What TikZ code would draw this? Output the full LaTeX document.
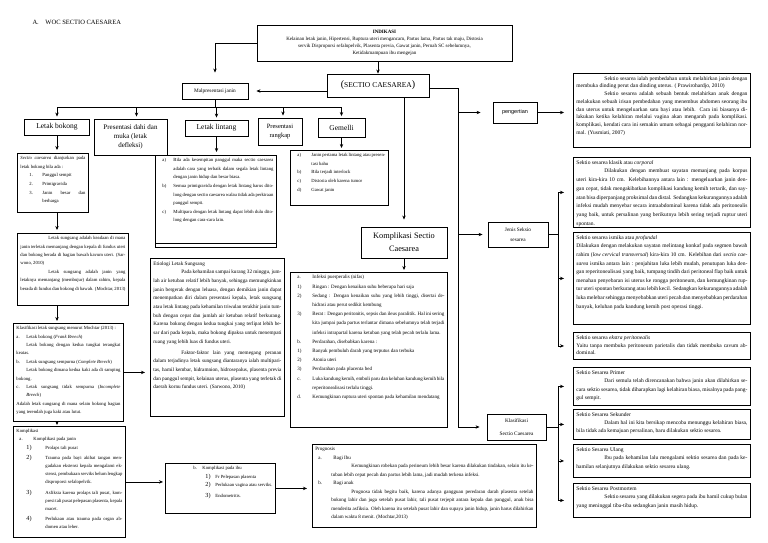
\documentclass[tikz,border=0pt]{standalone}
\usepackage{fontspec}
\setmainfont{Liberation Serif}
\newfontfamily\arialfont{Liberation Sans}
\usetikzlibrary{arrows.meta, positioning}

\newcommand{\ind}{\hspace*{28pt}}
\newcommand{\itm}[3]{\par\noindent\hangindent=\dimexpr#1+#2\relax\hangafter=1\hspace*{#1}\makebox[#2][l]{#3}}
\newcommand{\bn}[1]{{\fontsize{6.2}{6}\selectfont #1}}

\begin{document}
\begin{tikzpicture}[x=1pt, y=-1pt,
    lbl/.style={draw, line width=0.9pt, align=center, inner sep=1pt},
    txtbox/.style={draw, line width=0.9pt, anchor=north west, inner sep=3pt, font=\fontsize{4.7}{#1}\selectfont},
    txtbox/.default=8.6,
    rtbox/.style={txtbox, font=\fontsize{5.5}{#1}\selectfont},
    arr/.style={-{Stealth[length=4pt, width=3.4pt]}, line width=0.6pt},
    wire/.style={line width=0.6pt}
]
\path[use as bounding box, fill=white] (0,0) rectangle (768,543);

\node[anchor=west, font=\fontsize{6.5}{8}\selectfont] (title) at (29,22) {A.\hspace{5pt} WOC SECTIO CAESAREA};

% top
\node[lbl, minimum width=255pt, minimum height=36pt, font=\fontsize{5}{6.8}\selectfont] (indikasi) at (384.5,43)
  {\textbf{INDIKASI}\\Kelainan letak janin, Hipertensi, Ruptura uteri mengancam, Partus lama, Partus tak maju, Distosia\\servik Disproporsi sefalopelvik, Plasenta previa, Gawat janin, Pernah SC sebelumnya,\\Ketidakmampuan ibu mengejan};
\node[lbl, minimum width=102pt, minimum height=23pt, font=\fontsize{7.5}{9}\selectfont] (sectio) at (378,85.5)
  {{\fontsize{10}{10}\selectfont(}SECTIO CAESAREA{\fontsize{10}{10}\selectfont)}};
\node[lbl, minimum width=66pt, minimum height=16pt, font=\fontsize{5.3}{6}\selectfont] (malpres) at (215,91) {Malpresentasi janin};

% malpresentasi
\node[lbl, minimum width=65pt, minimum height=16pt, font=\fontsize{7.5}{9}\selectfont] (bokong) at (57,127) {Letak bokong};
\node[lbl, minimum width=73pt, minimum height=36pt, font=\fontsize{7}{9.2}\selectfont] (dahi) at (130.5,137) {Presentasi dahi dan\\muka (letak\\defleksi)};
\node[lbl, minimum width=63pt, minimum height=16pt, font=\fontsize{7.5}{9}\selectfont] (lintang) at (216.5,128) {Letak lintang};
\node[lbl, minimum width=44pt, minimum height=27pt, font=\fontsize{6.5}{8.5}\selectfont] (rangkap) at (280,131.5) {Presentasi\\rangkap};
\node[lbl, minimum width=47pt, minimum height=19pt, font=\fontsize{7.5}{9}\selectfont] (gemelli) at (341.5,128) {Gemelli};

\node[txtbox] (bokong1) at (17,153) {\parbox[t][53pt][t]{65pt}{\textit{Sectio caesarea} dianjurkan pada letak bokong bila ada :
  \itm{9pt}{13pt}{1.}Panggul sempit
  \itm{9pt}{13pt}{2.}Primigravida
  \itm{9pt}{13pt}{3.}Janin besar dan berharga}};
\node[txtbox=8.4] (bokong2) at (17,233) {\parbox[t][66pt][t]{105pt}{\ind Letak sungsang adalah keadaan di mana janin terletak memanjang dengan kepala di fundus uteri dan bokong berada di bagian bawah kavum uteri. (Sarwono, 2010)\par
  \ind Letak sungsang adalah janin yang letaknya memanjang (membujur) dalam rahim, kepala berada di fundus dan bokong di bawah. (Mochtar, 2013)}};
\node[txtbox=8.4] (bokong3) at (13,323) {\parbox[t][92pt][t]{104pt}{Klasifikasi letak sungsang menurut Mochtar (2013) :
  \itm{0pt}{10pt}{a.}Letak bokong (\textit{Frank Breech})
  \par\noindent\hspace*{10pt}Letak bokong dengan kedua tungkai terangkat keatas.
  \itm{0pt}{10pt}{b.}Letak sungsang sempurna (\textit{Complete Breech})
  \par\noindent\hspace*{10pt}Letak bokong dimana kedua kaki ada di samping bokong.
  \itm{0pt}{10pt}{c.}Letak sungsang tidak sempurna (\textit{Incomplete Breech})
  \par\noindent Adalah letak sungsang di mana selain bokong bagian yang terendah juga kaki atau lutut.}};
\node[txtbox=8.2] (janin) at (13,426) {\parbox[t][105pt][t]{106pt}{Komplikasi
  \itm{3pt}{14pt}{a.}Komplikasi pada janin
  \itm{10pt}{19pt}{\bn{1)}}Prolaps tali pusat
  \par\vspace{2pt}\itm{10pt}{19pt}{\bn{2)}}Trauma pada bayi akibat tangan mengadakan ekstensi kepala mengalami ekstensi, pembukaan serviks belum lengkap disproporsi sefalopelvik.
  \par\vspace{2pt}\itm{10pt}{19pt}{\bn{3)}}Asfiksia karena prolaps tali pusat, kompresi tali pusat pelepasan plasenta, kepala macet.
  \par\vspace{2pt}\itm{10pt}{19pt}{\bn{4)}}Perlukaan atau trauma pada organ abdomen atau leher.}};

\node[txtbox] (lintang1) at (155,155) {\parbox[t][86pt][t]{115pt}{\itm{4pt}{11pt}{a)}Bila ada kesempitan panggul maka sectio caesarea adalah cara yang terbaik dalam segala letak lintang dengan janin hidup dan besar biasa.
  \itm{4pt}{11pt}{b)}Semua primigravida dengan letak lintang harus ditolong dengan sectio caesarea walau tidak ada perkiraan panggul sempit.
  \itm{4pt}{11pt}{c)}Multipara dengan letak lintang dapat lebih dulu ditolong dengan cara-cara lain.}};
\draw[line width=0.9pt] ([yshift=4pt]lintang1.south west) -- ([yshift=4pt]lintang1.south east);
\node[txtbox, font=\fontsize{5.2}{8.7}\selectfont] (etiologi) at (150,258) {\parbox[t][152pt][t]{128pt}{Etiologi Letak Sungsang\par
  \ind Pada kehamilan sampai kurang 32 minggu, jumlah air ketuban relatif lebih banyak, sehingga memungkinkan janin bergerak dengan leluasa, dengan demikian janin dapat menempatkan diri dalam presentasi kepala, letak sungsang atau letak lintang pada kehamilan triwulan terakhir janin tumbuh dengan cepat dan jumlah air ketuban relatif berkurang. Karena bokong dengan kedua tungkai yang terlipat lebih besar dari pada kepala, maka bokong dipaksa untuk menempati ruang yang lebih luas di fundus uteri.\par\vspace{2pt}
  \ind Faktor-faktor lain yang memegang peranan dalam terjadinya letak sungsang diantaranya ialah multiparitas, hamil kembar, hidramnion, hidrosepalus, plasenta previa dan panggul sempit, kelainan uterus, plasenta yang terletak di daerah kornu fundus uteri. (Sarwono, 2010)}};
\node[txtbox] (gemelli1) at (290,150) {\parbox[t][49pt][t]{92pt}{\itm{4pt}{14pt}{a)}Janin pertama letak lintang atau presentasi bahu
  \itm{4pt}{14pt}{b)}Bila terjadi interlock
  \itm{4pt}{14pt}{c)}Distosia oleh karena tumor
  \itm{4pt}{14pt}{d)}Gawat janin}};

\node[txtbox=8.6] (ibu) at (165,463) {\parbox[t][44pt][t]{104pt}{\itm{25pt}{9pt}{b.}Komplikasi pada ibu
  \itm{37pt}{10pt}{\bn{1)}}Fr Pelepasan plasenta
  \itm{37pt}{10pt}{\bn{2)}}Perlukaan vagina atau serviks.
  \par\vspace{2pt}\itm{37pt}{10pt}{\bn{3)}}Endometritis.}};
\node[txtbox=8.5, font=\fontsize{5}{8.5}\selectfont] (prognosis) at (312,444) {\parbox[t][77pt][t]{218pt}{Prognosis
  \itm{3pt}{15pt}{a.}Bagi Ibu
  \par{\leftskip=16pt\hspace*{20pt}Kemungkinan robekan pada perineum lebih besar karena dilakukan tindakan, selain itu ketuban lebih cepat pecah dan partus lebih lama, jadi mudah terkena infeksi.\par}
  \itm{3pt}{15pt}{b.}Bagi anak
  \par{\leftskip=16pt\hspace*{20pt}Prognosa tidak begitu baik, karena adanya gangguan peredaran darah plasenta setelah bokong lahir dan juga setelah pusat lahir, tali pusat terjepit antara kepala dan panggul, anak bisa menderita asfiksia. Oleh karena itu setelah pusat lahir dan supaya janin hidup, janin harus dilahirkan dalam waktu 8 menit. (Mochtar,2013)\par}}};

% komplikasi
\node[lbl, minimum width=86pt, minimum height=31pt, font=\fontsize{8.3}{13}\selectfont] (komp) at (404,242.5) {Komplikasi Sectio\\Caesarea};
\node[txtbox, font=\fontsize{5}{9.2}\selectfont] (komp1) at (290,272) {\parbox[t][149pt][t]{151pt}{\itm{4pt}{15pt}{a.}Infeksi puerperalis (nifas)
  \itm{4pt}{15pt}{1)}Ringan : Dengan kenaikan suhu beberapa hari saja
  \itm{4pt}{15pt}{2)}Sedang : Dengan kenaikan suhu yang lebih tinggi, disertai dehidrasi atau perut sedikit kembung
  \itm{4pt}{15pt}{3)}Berat : Dengan peritonitis, sepsis dan ileus paralitik. Hal ini sering kita jumpai pada partus terlantar dimana sebelumnya telah terjadi infeksi intrapartal karena ketuban yang telah pecah terlalu lama.
  \itm{4pt}{15pt}{b.}Perdarahan, disebabkan karena :
  \itm{4pt}{15pt}{1)}Banyak pembuluh darah yang terputus dan terbuka
  \itm{4pt}{15pt}{2)}Atonia uteri
  \itm{4pt}{15pt}{3)}Perdarahan pada placenta bed
  \itm{4pt}{15pt}{c.}Luka kandung kemih, emboli paru dan keluhan kandung kemih bila reperitonealisasi terlalu tinggi.
  \itm{4pt}{15pt}{d.}Kemungkinan ruptura uteri spontan pada kehamilan mendatang}};

% right side
\node[lbl, minimum width=44pt, minimum height=21pt, font=\arialfont\fontsize{5.5}{6}\selectfont] (peng) at (515,112.5) {pengertian};
\node[lbl, minimum width=60pt, minimum height=25pt, font=\fontsize{5.3}{10}\selectfont] (jenis) at (518,234.5) {Jenis Seksio\\sesarea};
\node[lbl, minimum width=59pt, minimum height=26pt, font=\fontsize{5.3}{13}\selectfont] (klas) at (516.5,427) {Klasifikasi\\Sectio Caesarea};

\node[rtbox=7.7] (pengA) at (573,73) {\parbox[t][68pt][t]{171pt}{\ind Sektio sesarea ialah pembedahan untuk melahirkan janin dengan membuka dinding perut dan dinding uterus. ( Prawirohardjo, 2010)\par
  \ind Sektio sesarea adalah sebuah bentuk melahirkan anak dengan melakukan sebuah irisan pembedahan yang menembus abdomen seorang ibu dan uterus untuk mengeluarkan satu bayi atau lebih. Cara ini biasanya dilakukan ketika kelahiran melalui vagina akan mengarah pada komplikasi. komplikasi, kendati cara ini semakin umum sebagai pengganti kelahiran normal. (Yusmiati, 2007)}};
\node[rtbox=8.7] (klasik) at (573,157) {\parbox[t][64pt][t]{171pt}{Sektio sesarea klasik atau \textit{corporal}\par
  \ind Dilakukan dengan membuat sayatan memanjang pada korpus uteri kira-kira 10 cm. Kelebihannya antara lain : mengeluarkan janin dengan cepat, tidak mengakibatkan komplikasi kandung kemih tertarik, dan sayatan bisa diperpanjang proksimal dan distal. Sedangkan kekurangannya adalah infeksi mudah menyebar secara intraabdominal karena tidak ada peritonealis yang baik, untuk persalinan yang berikutnya lebih sering terjadi ruptur uteri spontan.}};
\node[rtbox=8.6] (profunda) at (573,232) {\parbox[t][86pt][t]{171pt}{Sektio sesarea ismika atau \textit{profundal}\par
  Dilakukan dengan melakukan sayatan melintang konkaf pada segmen bawah rahim (\textit{low cervical transversal}) kira-kira 10 cm. Kelebihan dari \textit{sectio caesarea} ismika antara lain : penjahitan luka lebih mudah, penutupan luka dengan reperitonealisasi yang baik, tumpang tindih dari peritoneal flap baik untuk menahan penyebaran isi uterus ke rongga peritoneum, dan kemungkinan ruptur uteri spontan berkurang atau lebih kecil. Sedangkan kekurangannya adalah luka melebar sehingga menyebabkan uteri pecah dan menyebabkan perdarahan banyak, keluhan pada kandung kemih post operasi tinggi.}};
\node[rtbox=7.8] (ekstra) at (573,332) {\parbox[t][21pt][t]{171pt}{Sektio sesarea \textit{ekstra peritonealis}\par
  Yaitu tanpa membuka peritoneum parietalis dan tidak membuka cavum abdominal.}};
\node[rtbox=8.5] (primer) at (573,367) {\parbox[t][32pt][t]{171pt}{Sektio Sesarea Primer\par
  \ind Dari semula telah direncanakan bahwa janin akan dilahirkan secara sektio sesarea, tidak diharapkan lagi kelahiran biasa, misalnya pada panggul sempit.}};
\node[rtbox=8.2] (sekunder) at (573,409) {\parbox[t][24pt][t]{171pt}{Sektio Sesarea Sekunder\par
  \ind Dalam hal ini kita bersikap mencoba menunggu kelahiran biasa, bila tidak ada kemajuan persalinan, baru dilakukan sektio sesarea.}};
\node[rtbox=8.6] (ulang) at (573,444) {\parbox[t][27pt][t]{171pt}{Sektio Sesarea Ulang\par
  \ind Ibu pada kehamilan lalu mengalami sektio sesarea dan pada kehamilan selanjutnya dilakukan sektio sesarea ulang.}};
\node[rtbox=8.6] (postm) at (573,483) {\parbox[t][28pt][t]{171pt}{Sektio Sesarea Postmortem\par
  \ind Sektio sesarea yang dilakukan segera pada ibu hamil cukup bulan yang meninggal tiba-tiba sedangkan janin masih hidup.}};

% connectors
\draw[arr] (indikasi.south -| sectio.north) -- (sectio.north);
\draw[arr, shorten >=10pt] (indikasi.west) -| (malpres.north);
\draw[arr, shorten >=8pt] (sectio.west |- malpres.east) -- (malpres.east);

\coordinate (br) at (215,107);
\draw[wire] (malpres.south) -- (br);
\draw[wire] (bokong.north |- br) -- (gemelli.north |- br);
\draw[arr, shorten >=2pt] (bokong.north |- br) -- (bokong.north);
\draw[arr, shorten >=2pt] ([xshift=6pt]dahi.north |- br) -- ([xshift=6pt]dahi.north);
\draw[arr, shorten >=2pt] (lintang.north |- br) -- (lintang.north);
\draw[arr, shorten >=2pt] ([xshift=3pt]rangkap.north |- br) -- ([xshift=3pt]rangkap.north);
\draw[arr, shorten >=2pt] (gemelli.north |- br) -- (gemelli.north);

\draw[arr, shorten >=3pt] (bokong.south) -- (bokong.south |- bokong1.north);
\draw[arr, shorten >=3pt] (bokong.south |- bokong1.south) -- (bokong.south |- bokong2.north);
\draw[arr, shorten >=2pt] (bokong.south |- bokong2.south) -- (bokong.south |- bokong3.north);
\draw[arr, shorten >=1pt] (bokong.south |- bokong3.south) -- (bokong.south |- janin.north);
\draw[arr, shorten >=5pt] (bokong3.east) -- (bokong3.east -| etiologi.west);
\draw[arr, shorten >=2pt] (janin.east) -- (janin.east -| ibu.west);
\draw[arr, shorten >=5pt] (ibu.east) -- (ibu.east -| prognosis.west);
\draw[arr, shorten >=3pt] (lintang.south) -- (lintang.south |- lintang1.north);
\draw[arr, shorten >=2pt] (gemelli.south) -- (gemelli.south |- gemelli1.north);

\draw[arr, shorten >=7pt] (sectio.south -| komp.north) -- (komp.north);
\draw[arr, shorten >=2pt] (komp.south) -- (komp.south |- komp1.north);

\coordinate (tr) at (458,88);
\draw[wire] (sectio.east |- tr) -- (tr) -- (tr |- klas.west);
\draw[arr, shorten >=12pt] (tr |- peng.west) -- (peng.west);
\draw[arr, shorten >=5pt] (tr |- jenis.west) -- (jenis.west);
\draw[arr, shorten >=7pt] (tr |- klas.west) -- (klas.west);
\draw[arr, shorten >=9pt] (peng.east) -- (peng.east -| pengA.west);

\coordinate (jf) at (558,0);
\draw[wire] (jenis.east) -- (jenis.east -| jf);
\draw[wire] (jf |- klasik.west) -- (jf |- ekstra.west);
\draw[arr, shorten >=9pt] (jf |- klasik.west) -- (klasik.west);
\draw[arr, shorten >=9pt] (jf |- profunda.west) -- (profunda.west);
\draw[arr, shorten >=9pt] (jf |- ekstra.west) -- (ekstra.west);
\draw[wire] (klas.east) -- (klas.east -| jf);
\draw[wire] (jf |- primer.west) -- (jf |- postm.west);
\draw[arr, shorten >=9pt] (jf |- primer.west) -- (primer.west);
\draw[arr, shorten >=9pt] (jf |- sekunder.west) -- (sekunder.west);
\draw[arr, shorten >=9pt] (jf |- ulang.west) -- (ulang.west);
\draw[arr, shorten >=9pt] (jf |- postm.west) -- (postm.west);
\end{tikzpicture}
\end{document}
